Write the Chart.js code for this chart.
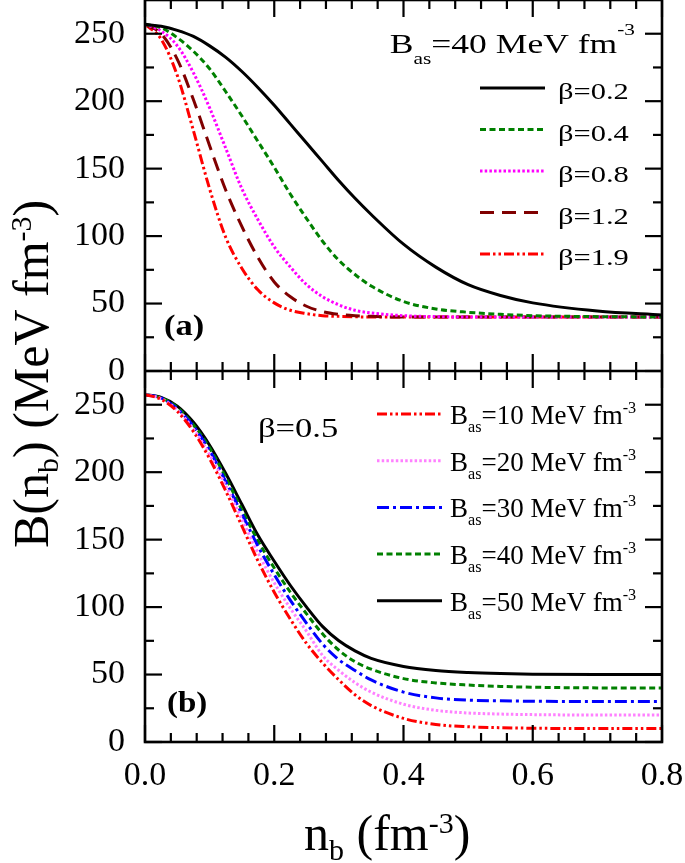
<!DOCTYPE html>
<html>
<head>
<meta charset="utf-8">
<script src="https://cdn.jsdelivr.net/npm/chart.js@4.4.1/dist/chart.umd.min.js"></script>
<style>
  html, body { margin: 0; padding: 0; background: #fff; overflow: hidden; }
  #wrap { width: 710px; height: 863px; }
</style>
</head>
<body>
<div id="wrap"><canvas id="chart" width="710" height="863"></canvas></div>
<script>
// baryon density grid (fm^-3)
const nB = [0, 0.025, 0.05, 0.075, 0.1, 0.125, 0.15, 0.175, 0.2, 0.225, 0.25, 0.275, 0.3, 0.325, 0.35, 0.4, 0.45, 0.5, 0.55, 0.6, 0.7, 0.8]

// panel (a): B_as = 40 MeV fm^-3, different beta
const betaLabels = ['β=0.2', 'β=0.4', 'β=0.8', 'β=1.2', 'β=1.9']
const bBeta02 = [257, 255.5, 252.5, 248, 241, 232.5, 222, 210, 197, 183, 169, 155, 141, 128, 116, 94, 77, 64, 56, 50.5, 44.5, 41.5]
const bBeta04 = [257, 254.5, 247, 237, 224, 207, 189, 170, 151, 131, 113, 96, 82, 71.5, 63, 51.5, 46, 43.5, 42, 41, 40.3, 40]
const bBeta08 = [257, 252, 241, 221, 195, 165, 135, 112, 92, 77, 64, 55, 49, 45, 43, 41, 40.3, 40, 40, 40, 40, 40]
const bBeta12 = [257, 250, 231, 201, 167, 134, 107, 84, 66, 55, 48, 44, 42, 41, 40.5, 40, 40, 40, 40, 40, 40, 40]
const bBeta19 = [257, 246, 219, 178, 135, 99, 76, 60, 50.5, 45, 42.5, 41, 40.5, 40.2, 40, 40, 40, 40, 40, 40, 40, 40]

// panel (b): beta = 0.5, different B_as
const basValues = ['10', '20', '30', '40', '50']
const bBas10 = [257.5, 254, 245, 230, 210, 186, 160, 134, 111, 91, 73, 58.5, 46, 35, 27, 17.5, 13, 11.3, 10.6, 10.2, 10, 10]
const bBas20 = [257.5, 254.5, 246, 232, 213, 190, 165, 140, 118, 99, 82, 64, 53, 44, 37, 28, 23.5, 21.5, 20.7, 20.3, 20, 20]
const bBas30 = [257.5, 255, 247, 234, 216, 193, 169, 145, 124, 105, 88, 72.5, 61, 53, 46, 37, 32.7, 31, 30.5, 30.2, 30, 30]
const bBas40 = [257.5, 255, 248, 235, 218, 196, 172, 149, 129, 111, 95, 80, 68, 59.5, 54, 47, 43.8, 42.2, 41.2, 40.6, 40.1, 40]
const bBas50 = [257.5, 255.5, 249, 237, 220, 199, 176, 153, 134, 116, 100, 85.5, 75, 67.5, 62, 56, 53, 51.5, 50.7, 50.3, 50, 50]

// axis ticks
const xMajor = [0, 0.2, 0.4, 0.6, 0.8]
const xMinor = [0.04, 0.08, 0.12, 0.16, 0.24, 0.28, 0.32, 0.36, 0.44, 0.48, 0.52, 0.56, 0.64, 0.68, 0.72, 0.76]
const yMajor = [0, 50, 100, 150, 200, 250]
const yMinor = [25, 75, 125, 175, 225]

const SERIF = "'Liberation Serif', 'Times New Roman', serif"
const MAJOR = 17
const MINOR = 9

const makeSet = (label, values, axis, color, dash, panel) => ({
	label,
	panel,
	data: nB.map((x, i) => ({ x, y: values[i] })),
	yAxisID: axis,
	borderColor: color,
	borderDash: dash,
	borderWidth: 3,
	borderCapStyle: 'butt',
	pointRadius: 0,
	fill: false,
	cubicInterpolationMode: 'monotone',
})

const dashDotDot = [10, 3, 2.5, 3, 2.5, 3]
const datasets = [
	makeSet(betaLabels[0], bBeta02, 'yA', '#000000', [], 'a'),
	makeSet(betaLabels[1], bBeta04, 'yA', '#008000', [6, 3.5], 'a'),
	makeSet(betaLabels[2], bBeta08, 'yA', '#ff00ff', [2.5, 2.2], 'a'),
	makeSet(betaLabels[3], bBeta12, 'yA', '#800000', [14, 8], 'a'),
	makeSet(betaLabels[4], bBeta19, 'yA', '#ff0000', dashDotDot, 'a'),
	makeSet(basValues[0], bBas10, 'yB', '#ff0000', dashDotDot, 'b'),
	makeSet(basValues[1], bBas20, 'yB', '#ff80ff', [2.5, 2.2], 'b'),
	makeSet(basValues[2], bBas30, 'yB', '#0000ff', [12, 4, 3, 4], 'b'),
	makeSet(basValues[3], bBas40, 'yB', '#008000', [6, 3.5], 'b'),
	makeSet(basValues[4], bBas50, 'yB', '#000000', [], 'b'),
]

// text with sub/superscripts: parts = [[text, 'sub'|'sup'|'']]
function drawRich(ctx, parts, x, y, o) {
	const size = o.size
	const small = size * 0.6
	const weight = o.bold ? 'bold ' : ''
	const fontOf = (k) => weight + (k ? small : size) + 'px ' + SERIF
	let width = 0
	const widths = parts.map(([t, k]) => {
		ctx.font = fontOf(k)
		const w = ctx.measureText(t).width
		width += w
		return w
	})
	const sx = o.sx || 1
	ctx.save()
	ctx.translate(x, y)
	if (o.rot) ctx.rotate(o.rot)
	ctx.scale(sx, 1)
	ctx.fillStyle = '#000'
	ctx.textBaseline = 'alphabetic'
	ctx.textAlign = 'left'
	let cx = o.align === 'right' ? -width : 0
	parts.forEach(([t, k], i) => {
		ctx.font = fontOf(k)
		const dy = k === 'sub' ? (o.subDy || size * 0.3) : k === 'sup' ? -(o.supDy || size * 0.45) : 0
		ctx.fillText(t, cx, dy)
		cx += widths[i]
	})
	ctx.restore()
}

const framePlugin = {
	id: 'frame',
	afterDatasetsDraw(chart) {
		const { ctx, chartArea: ca, scales } = chart
		const xs = scales.x
		ctx.save()
		ctx.strokeStyle = '#000'
		ctx.setLineDash([])
		const line = (x1, y1, x2, y2) => {
			ctx.beginPath()
			ctx.moveTo(x1, y1)
			ctx.lineTo(x2, y2)
			ctx.stroke()
		}
		ctx.lineWidth = 2.2
		for (const ys of [scales.yA, scales.yB]) {
			xMajor.forEach((v) => {
				const px = xs.getPixelForValue(v)
				line(px, ys.top, px, ys.top + MAJOR)
				line(px, ys.bottom, px, ys.bottom - MAJOR)
			})
			xMinor.forEach((v) => {
				const px = xs.getPixelForValue(v)
				line(px, ys.top, px, ys.top + MINOR)
				line(px, ys.bottom, px, ys.bottom - MINOR)
			})
			yMajor.forEach((v) => {
				const py = ys.getPixelForValue(v)
				line(ca.left, py, ca.left + MAJOR, py)
				line(ca.right, py, ca.right - MAJOR, py)
			})
			yMinor.forEach((v) => {
				const py = ys.getPixelForValue(v)
				line(ca.left, py, ca.left + MINOR, py)
				line(ca.right, py, ca.right - MINOR, py)
			})
		}
		ctx.lineWidth = 2.6
		ctx.strokeRect(ca.left, ca.top, ca.right - ca.left, ca.bottom - ca.top)
		line(ca.left, scales.yA.bottom, ca.right, scales.yA.bottom)

		// legends, drawn from the dataset styles
		const sample = (ds, x1, x2, y) => {
			ctx.save()
			ctx.strokeStyle = ds.borderColor
			ctx.lineWidth = ds.borderWidth
			ctx.setLineDash(ds.borderDash)
			line(x1, y, x2, y)
			ctx.restore()
		}
		const setsA = chart.data.datasets.filter((d) => d.panel === 'a')
		const setsB = chart.data.datasets.filter((d) => d.panel === 'b')
		drawRich(ctx, [['B', ''], ['as', 'sub'], ['=40 MeV fm', ''], ['-3', 'sup']], 635, 53, { size: 28, sx: 1.27, align: 'right', subDy: 11, supDy: 18 })
		setsA.forEach((ds, i) => {
			const y = 88 + i * 41.5
			sample(ds, 480, 545, y)
			drawRich(ctx, [[ds.label, '']], 558, y + 11, { size: 24, sx: 1.27 })
		})
		setsB.forEach((ds, i) => {
			const y = 414 + i * 46.7
			sample(ds, 377, 442, y)
			drawRich(ctx, [['B', ''], ['as', 'sub'], ['=' + ds.label + ' MeV fm', ''], ['-3', 'sup']], 450, y + 10, { size: 27, subDy: 8, supDy: 11 })
		})
		drawRich(ctx, [['β=0.5', '']], 258, 437, { size: 27, sx: 1.28 })
		drawRich(ctx, [['(a)', '']], 164, 335, { size: 30, sx: 1.15, bold: true })
		drawRich(ctx, [['(b)', '']], 167, 712, { size: 30, sx: 1.1, bold: true })

		// axis titles
		drawRich(ctx, [['n', ''], ['b', 'sub'], [' (fm', ''], ['-3', 'sup'], [')', '']], 304, 850, { size: 50, subDy: 10, supDy: 17 })
		drawRich(ctx, [['B(n', ''], ['b', 'sub'], [') (MeV fm', ''], ['-3', 'sup'], [')', '']], 48, 548, { size: 50, rot: -Math.PI / 2, subDy: 10, supDy: 17 })
		ctx.restore()
	},
}

const yAxis = (weight) => ({
	type: 'linear',
	position: 'left',
	stack: 'panels',
	stackWeight: 1,
	weight,
	min: 0,
	max: 275,
	afterBuildTicks: (s) => { s.ticks = yMajor.map((value) => ({ value })) },
	afterFit: (s) => {
		s.width = 145
		s.paddingTop = 0
		s.paddingBottom = 0
	},
	grid: { display: false, drawTicks: false },
	border: { display: false },
	ticks: { color: '#000', padding: 20, autoSkip: false, font: { family: SERIF, size: 34 } },
})

new Chart(document.getElementById('chart'), {
	type: 'line',
	data: { datasets },
	options: {
		responsive: false,
		animation: false,
		devicePixelRatio: 1,
		layout: { padding: { top: 0, right: 48, bottom: 0, left: 0 } },
		plugins: { legend: { display: false }, tooltip: { enabled: false } },
		scales: {
			x: {
				type: 'linear',
				min: 0,
				max: 0.8,
				afterBuildTicks: (s) => { s.ticks = xMajor.map((value) => ({ value })) },
				afterFit: (s) => {
					s.height = 121
					s.paddingLeft = 0
					s.paddingRight = 0
				},
				grid: { display: false, drawTicks: false },
				border: { display: false },
				ticks: {
					color: '#000',
					padding: 14,
					maxRotation: 0,
					autoSkip: false,
					font: { family: SERIF, size: 34 },
					callback: (v) => Number(v).toFixed(1),
				},
			},
			yB: yAxis(0),
			yA: yAxis(1),
		},
	},
	plugins: [framePlugin],
})
</script>
</body>
</html>
